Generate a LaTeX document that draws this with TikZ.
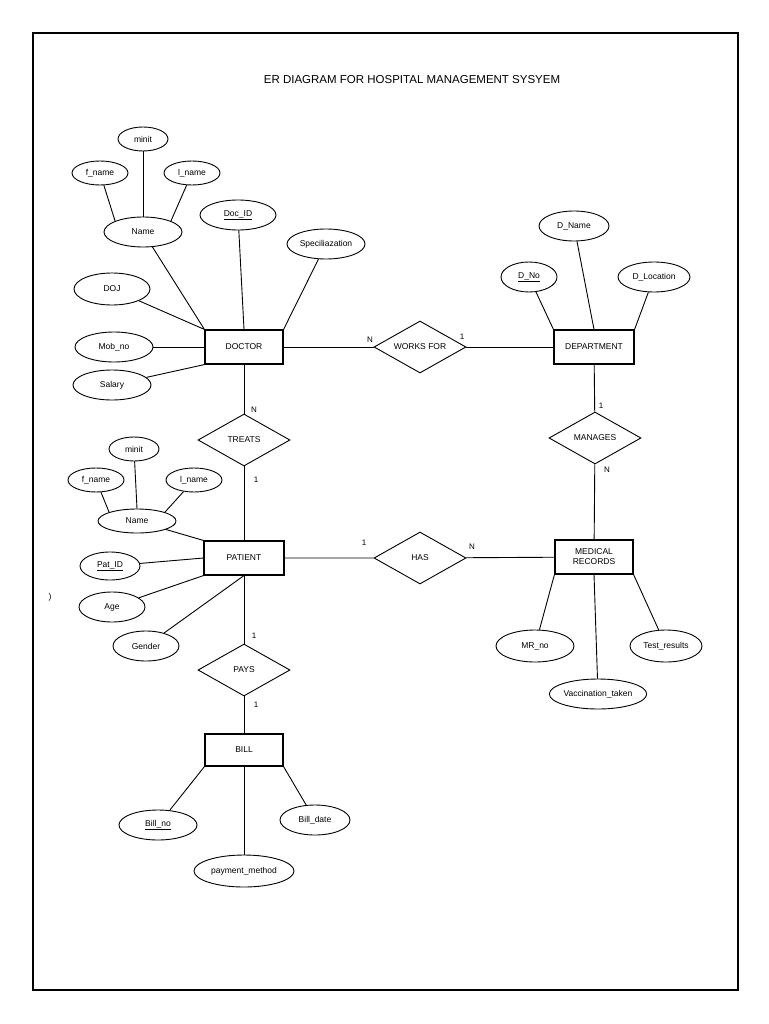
\documentclass[tikz,border=0pt]{standalone}
\usepackage{fontspec}
\setmainfont{Liberation Sans}
\usetikzlibrary{shapes.geometric}
\begin{document}
\begin{tikzpicture}[x=1pt,y=-1pt,line width=0.9pt,
  every node/.style={font=\fontsize{8.5}{10}\selectfont},
  ent/.style={draw,line width=1.1pt,rectangle,minimum width=#1,minimum height=34,align=center,inner sep=1pt},
  ent/.default=78,
  att/.style={draw,ellipse,minimum width=#1,minimum height=30,inner sep=0pt},
  att/.default=72,
  rel/.style={draw,diamond,aspect=1.8,minimum width=92,minimum height=52,inner sep=0pt},
  card/.style={font=\fontsize{8}{9}\selectfont}]
\useasboundingbox (0,0) rectangle (768,1024);
\draw[line width=2.5] (33,33) rectangle (738,990);
\node (title) at (412,80) {\fontsize{11.5}{13}\selectfont ER DIAGRAM FOR HOSPITAL MANAGEMENT SYSYEM};
% doctor
\node[ent] (doc) at (244,347) {DOCTOR};
\node[att=50,minimum height=24] (dminit) at (143,139) {minit};
\node[att=56,minimum height=24] (dfn) at (100,173) {f\_name};
\node[att=56,minimum height=24] (dln) at (192,173) {l\_name};
\node[att=78] (dname) at (143,232) {Name};
\node[att=76] (docid) at (238,215) {\underline{Doc\_ID}};
\node[att=78] (spec) at (326,244) {Speciliazation};
\node[att=76,minimum height=32] (doj) at (112,289) {DOJ};
\node[att=78] (mob) at (114,347) {Mob\_no};
\node[att=78] (sal) at (112,385) {Salary};
\draw (dminit) -- (dname.north);
\draw (dfn) -- (dname.north west);
\draw (dln) -- (dname.north east);
\draw (dname) -- (doc.north west);
\draw (docid) -- (doc.north);
\draw (spec) -- (doc.north east);
\draw (doj) -- (doc.north west);
\draw (mob) -- (doc);
\draw (sal) -- (doc.south west);
% department
\node[rel] (works) at (420,347) {WORKS FOR};
\node[ent=80] (dept) at (594,347) {DEPARTMENT};
\node[att=70] (dnm) at (574,226) {D\_Name};
\node[att=56] (dno) at (529,277) {\underline{D\_No}};
\node[att=72] (dloc) at (654,277) {D\_Location};
\draw (dnm) -- (dept.north);
\draw (dno) -- (dept.north west);
\draw (dloc) -- (dept.north east);
\draw (doc) -- (works) -- (dept);
\node[card] at (370,340) {N};
\node[card] at (462,337) {1};
% treats
\node[rel] (treats) at (244,440) {TREATS};
\node[ent=80] (pat) at (244,558) {PATIENT};
\draw (doc) -- (treats) -- (pat);
\node[card] at (254,410) {N};
\node[card] at (256,480) {1};
% manages
\node[rel] (man) at (595,438) {MANAGES};
\node[ent] (mr) at (594,557) {MEDICAL\\RECORDS};
\draw (dept) -- (man) -- (mr);
\node[card] at (601,406) {1};
\node[card] at (607,470) {N};
% has
\node[rel] (has) at (420,558) {HAS};
\draw (pat) -- (has) -- (mr);
\node[card] at (364,543) {1};
\node[card] at (472,547) {N};
% patient attributes
\node[att=50,minimum height=24] (pminit) at (134,449) {minit};
\node[att=56,minimum height=24] (pfn) at (96,480) {f\_name};
\node[att=56,minimum height=24] (pln) at (194,480) {l\_name};
\node[att=78,minimum height=24] (pname) at (137,521) {Name};
\node[att=60,minimum height=28] (pid) at (110,566) {\underline{Pat\_ID}};
\node[att=66] (age) at (112,607) {Age};
\node[att=66] (gen) at (146,646) {Gender};
\draw (pminit) -- (pname.north);
\draw (pfn) -- (pname.north west);
\draw (pln) -- (pname.north east);
\draw (pname) -- (pat.north west);
\draw (pid) -- (pat.west);
\draw (age) -- (pat.south west);
\draw (gen) -- (pat.south);
\node at (50,597) {)};
% medical records attributes
\node[att=78,minimum height=32] (mrno) at (535,646) {MR\_no};
\node[att=96] (vac) at (598,694) {Vaccination\_taken};
\node[att=72,minimum height=32] (test) at (666,646) {Test\_results};
\draw (mrno) -- (mr.south west);
\draw (vac) -- (mr.south);
\draw (test) -- (mr.south east);
% pays
\node[rel] (pays) at (244,670) {PAYS};
\node[ent,minimum height=32] (bill) at (244,750) {BILL};
\draw (pat) -- (pays) -- (bill);
\node[card] at (254,636) {1};
\node[card] at (256,705) {1};
\node[att=78] (bno) at (158,825) {\underline{Bill\_no}};
\node[att=100,minimum height=32] (pm) at (244,871) {payment\_method};
\node[att=70] (bd) at (315,820) {Bill\_date};
\draw (bno) -- (bill.south west);
\draw (pm) -- (bill.south);
\draw (bd) -- (bill.south east);
\end{tikzpicture}
\end{document}
